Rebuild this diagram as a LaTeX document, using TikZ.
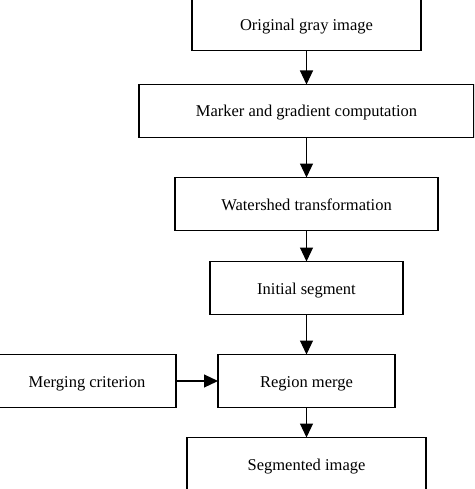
\documentclass[tikz,border=0pt]{standalone}
\usepackage{fontspec}
\setmainfont{Liberation Serif}
\usepackage{tikz}
\usetikzlibrary{positioning,arrows.meta}

\begin{document}
\begin{tikzpicture}[
    x=1pt, y=1pt,
    node distance=34pt,
    stage/.style={rectangle, draw=black, line width=1.2pt, minimum height=53pt, outer sep=0pt, inner sep=2pt, text height=12pt, text depth=0pt, text centered, font=\fontsize{16.5}{20}\selectfont},
    arrow/.style={-{Triangle[length=14pt,width=13pt]}, line width=1.2pt}
]
    \useasboundingbox (0,0) rectangle (474,-489);
    \clip (0,0) rectangle (474,-489);

    \node[stage, minimum width=229pt, minimum height=52pt] (original) at (306.5,-24.5) {Original gray image};
    \node[stage, minimum width=335pt, below=34pt of original] (marker) {Marker and gradient computation};
    \node[stage, minimum width=263pt, below=40pt of marker] (watershed) {Watershed transformation};
    \node[stage, minimum width=193pt, below=31pt of watershed] (initial) {Initial segment};
    \node[stage, minimum width=177pt, below=40pt of initial] (merge) {Region merge};
    \node[stage, minimum width=178pt, left=42pt of merge] (criterion) {Merging criterion};
    \node[stage, minimum width=239pt, below=30pt of merge] (segmented) {Segmented image};

    \draw[arrow] (original) -- (marker);
    \draw[arrow] (marker) -- (watershed);
    \draw[arrow] (watershed) -- (initial);
    \draw[arrow] (initial) -- (merge);
    \draw[arrow] (criterion) -- (merge);
    \draw[arrow] (merge) -- (segmented);
\end{tikzpicture}
\end{document}
